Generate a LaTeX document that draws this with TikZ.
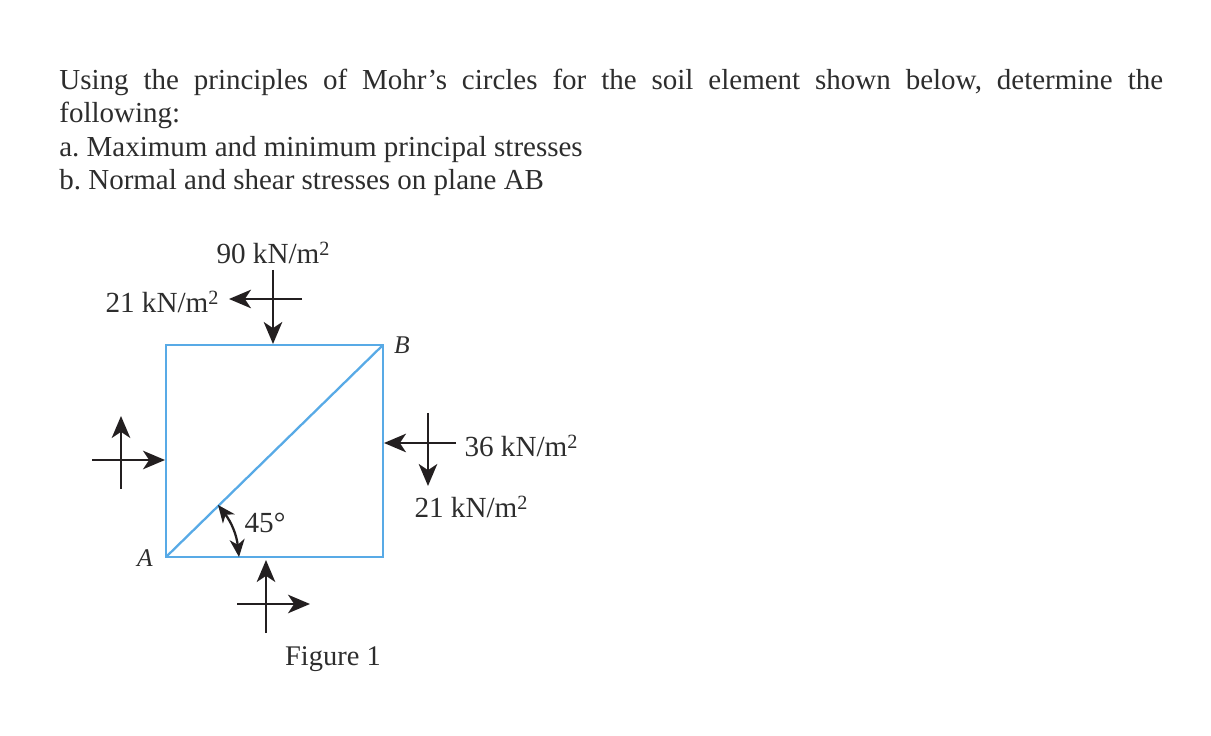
\documentclass[tikz,border=0pt]{standalone}
\usepackage{fontspec}
\setmainfont{Liberation Serif}
\usetikzlibrary{arrows.meta}
\definecolor{elemblue}{RGB}{88,170,230}
\definecolor{inkdark}{RGB}{35,31,32}
\definecolor{textdark}{RGB}{45,45,45}
\newcommand{\sq}{\raisebox{.3em}{\fontsize{11.5}{12}\selectfont 2}}
\tikzset{
    load/.style={->, >={Stealth[length=12.5pt,width=10.5pt,inset=3.5pt]}, line width=1.55pt, color=inkdark},
    lbl/.style={inner sep=0pt, text=textdark, font=\fontsize{16.6}{18}\selectfont},
    elem/.style={draw=elemblue, line width=1.3pt}
}
\begin{document}
\frenchspacing
\begin{tikzpicture}[x=0.02cm, y=-0.02cm]
    \useasboundingbox (0,0) rectangle (1211,736);
    % problem statement
    \node [anchor=north west, inner sep=0pt, text width=22.08cm, align=justify, text=textdark,
        font=\fontsize{16.5}{19}\selectfont] (question) at (59,68.5) {Using the principles of Mohr’s circles for the soil element shown below, determine the\linebreak
        following:\\
        a. Maximum and minimum principal stresses\\
        b. Normal and shear stresses on plane AB};
    % soil element
    \coordinate (A) at (166,557);
    \coordinate (B) at (383,345);
    \draw [elem] (A) rectangle (B);
    \draw [elem] (A) -- (B);
    % top
    \coordinate (topN) at (273,270);
    \coordinate (topS) at (273,344);
    \coordinate (topE) at (302,299);
    \coordinate (topW) at (229,299);
    \draw [load] (topN) -- (topS);
    \draw [load] (topE) -- (topW);
    % left
    \coordinate (leftN) at (121,416);
    \coordinate (leftS) at (121,489);
    \coordinate (leftE) at (165,460);
    \coordinate (leftW) at (92,460);
    \draw [load] (leftS) -- (leftN);
    \draw [load] (leftW) -- (leftE);
    % right
    \coordinate (rightN) at (428,413);
    \coordinate (rightS) at (428,486);
    \coordinate (rightE) at (456,443);
    \coordinate (rightW) at (384,443);
    \draw [load] (rightN) -- (rightS);
    \draw [load] (rightE) -- (rightW);
    % bottom
    \coordinate (botN) at (266,560);
    \coordinate (botS) at (266,633);
    \coordinate (botE) at (310,604);
    \coordinate (botW) at (237,604);
    \draw [load] (botS) -- (botN);
    \draw [load] (botW) -- (botE);
    % angle
    \coordinate (arcD) at (218,505);
    \coordinate (arcH) at (239,557);
    \draw [load, <->, >={Stealth[length=10pt,width=8.5pt,inset=3pt]}, line width=1.3pt] (arcD) to [bend left=16] (arcH);
    % labels
    \node [lbl] (topV) at (273,253) {90 kN/m\sq};
    \node [lbl] (topH) at (162,302) {21 kN/m\sq};
    \node [lbl] (rightH) at (521,446) {36 kN/m\sq};
    \node [lbl] (rightV) at (471,507) {21 kN/m\sq};
    \node [lbl] (angle) at (265,523) {45°};
    \node [lbl, font=\fontsize{14.5}{16}\selectfont\itshape] (labA) at (145,558) {A};
    \node [lbl, font=\fontsize{14.5}{16}\selectfont\itshape] (labB) at (402,345) {B};
    \node [lbl, font=\fontsize{16.2}{18}\selectfont] (caption) at (333,659) {Figure 1};
\end{tikzpicture}
\end{document}
